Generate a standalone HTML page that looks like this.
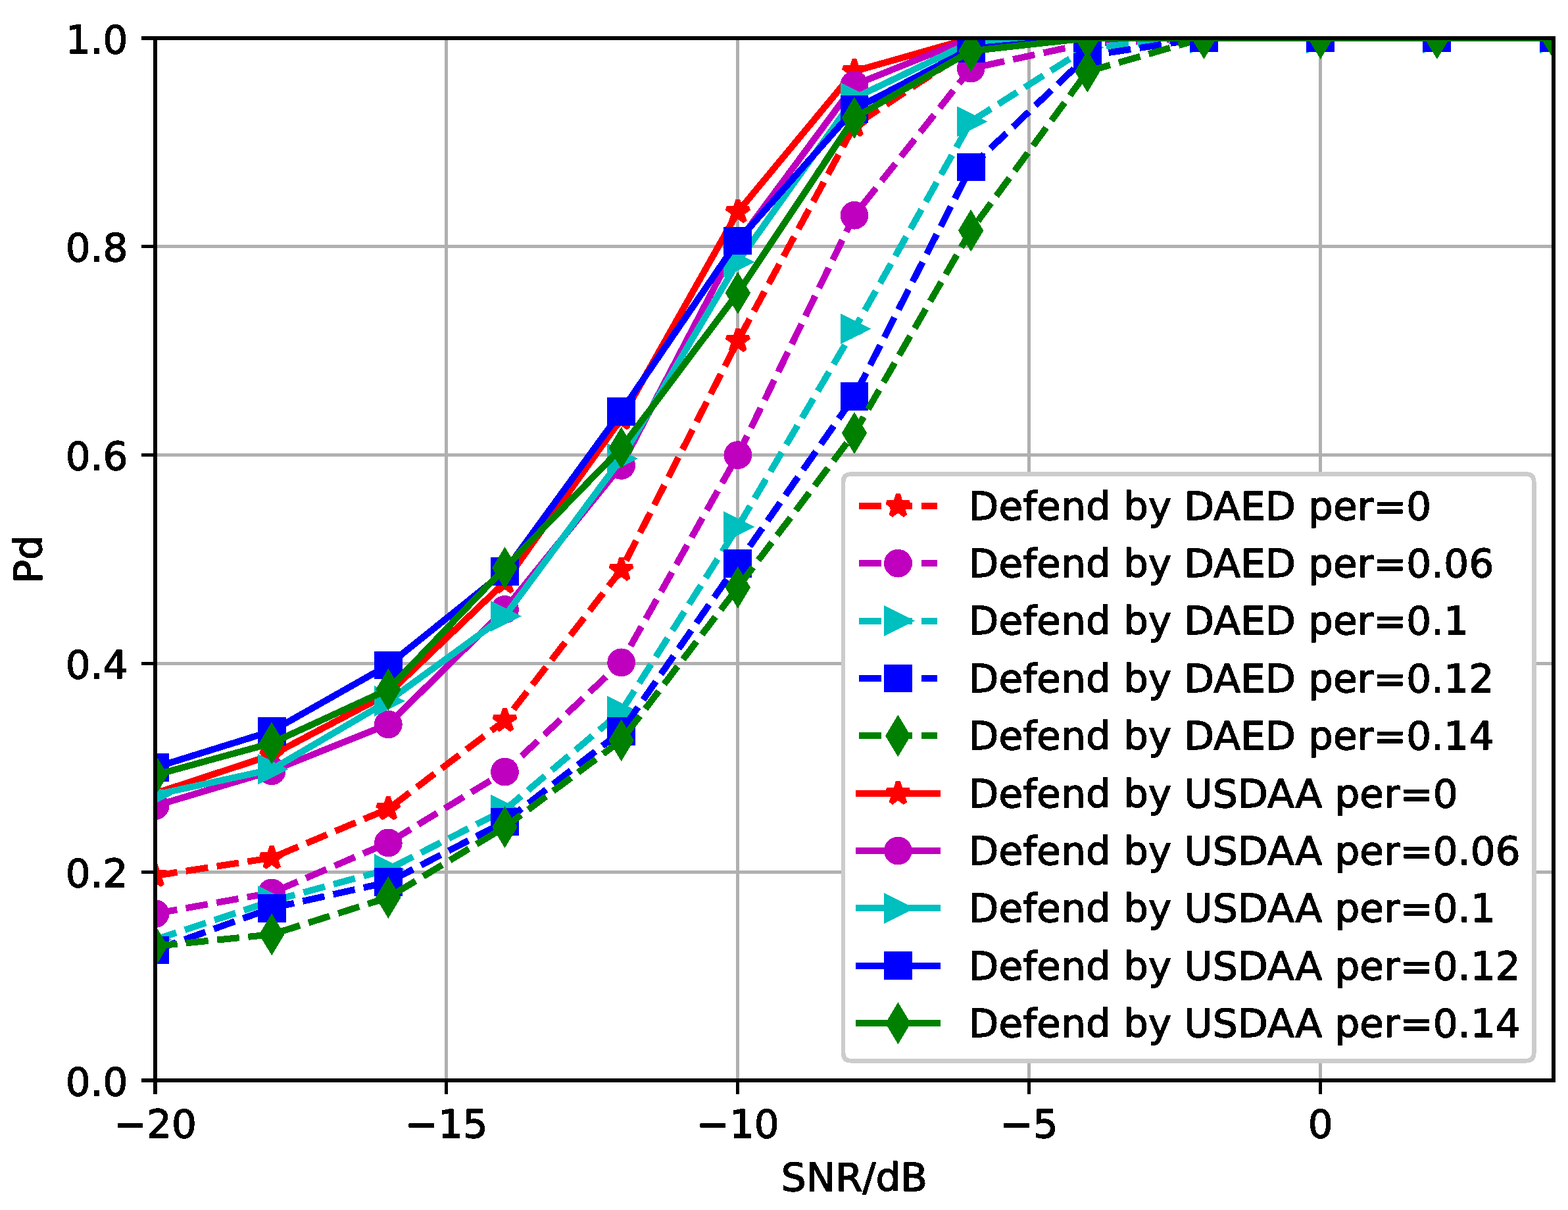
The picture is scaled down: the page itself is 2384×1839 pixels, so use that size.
<!DOCTYPE html>
<html><head><meta charset="utf-8"><title>Pd vs SNR</title>
<style>html,body{margin:0;padding:0;background:#fff;width:2384px;height:1839px;overflow:hidden}svg{display:block;shape-rendering:crispEdges}</style>
</head><body>
<svg width="2384" height="1839" viewBox="0 0 400.485301 308.931405" version="1.1">
 
 <defs>
  <filter id="tcrisp" x="-5%" y="-20%" width="110%" height="140%"><feComponentTransfer><feFuncA type="discrete" tableValues="0 1"/></feComponentTransfer></filter>
  <style type="text/css">*{stroke-linejoin: round; stroke-linecap: butt}</style>
 </defs>
 <g id="figure_1">
  <g id="patch_1">
   <path d="M 0 308.931405 L 400.485301 308.931405 L 400.485301 0 L 0 0 z" style="fill: #ffffff"/>
  </g>
  <g id="axes_1">
   <g id="patch_2">
    <path d="M 39.645357 275.837611 L 396.789547 275.837611 L 396.789547 9.74335 L 39.645357 9.74335 z" style="fill: #ffffff"/>
   </g>
   <g id="matplotlib.axis_1">
    <g id="xtick_1">
     <g id="line2d_1">
      <path d="M 39.645357 275.837611 L 39.645357 9.74335" clip-path="url(#p7adef62418)" style="fill: none; stroke: #b0b0b0; stroke-width: 0.84; stroke-linecap: square"/>
     </g>
     <g id="line2d_2">
      
      <g>
       <path d="M 0 0 L 0 3.5" transform="translate(39.645357 275.837611)" style="stroke: #000000; stroke-width: 0.84"/>
      </g>
     </g>
     <g id="text_1">
      <text filter="url(#tcrisp)" style="font-size: 10px; font-family: 'DejaVu Sans', sans-serif; text-anchor: middle; stroke: #000000; stroke-width: 0.25; stroke-linejoin: miter" x="39.645357" y="290.436048" transform="rotate(-0 39.645357 290.436048)">−20</text>
     </g>
    </g>
    <g id="xtick_2">
     <g id="line2d_3">
      <path d="M 114.050397 275.837611 L 114.050397 9.74335" clip-path="url(#p7adef62418)" style="fill: none; stroke: #b0b0b0; stroke-width: 0.84; stroke-linecap: square"/>
     </g>
     <g id="line2d_4">
      <g>
       <path d="M 0 0 L 0 3.5" transform="translate(114.050397 275.837611)" style="stroke: #000000; stroke-width: 0.84"/>
      </g>
     </g>
     <g id="text_2">
      <text filter="url(#tcrisp)" style="font-size: 10px; font-family: 'DejaVu Sans', sans-serif; text-anchor: middle; stroke: #000000; stroke-width: 0.25; stroke-linejoin: miter" x="114.050397" y="290.436048" transform="rotate(-0 114.050397 290.436048)">−15</text>
     </g>
    </g>
    <g id="xtick_3">
     <g id="line2d_5">
      <path d="M 188.455436 275.837611 L 188.455436 9.74335" clip-path="url(#p7adef62418)" style="fill: none; stroke: #b0b0b0; stroke-width: 0.84; stroke-linecap: square"/>
     </g>
     <g id="line2d_6">
      <g>
       <path d="M 0 0 L 0 3.5" transform="translate(188.455436 275.837611)" style="stroke: #000000; stroke-width: 0.84"/>
      </g>
     </g>
     <g id="text_3">
      <text filter="url(#tcrisp)" style="font-size: 10px; font-family: 'DejaVu Sans', sans-serif; text-anchor: middle; stroke: #000000; stroke-width: 0.25; stroke-linejoin: miter" x="188.455436" y="290.436048" transform="rotate(-0 188.455436 290.436048)">−10</text>
     </g>
    </g>
    <g id="xtick_4">
     <g id="line2d_7">
      <path d="M 262.860476 275.837611 L 262.860476 9.74335" clip-path="url(#p7adef62418)" style="fill: none; stroke: #b0b0b0; stroke-width: 0.84; stroke-linecap: square"/>
     </g>
     <g id="line2d_8">
      <g>
       <path d="M 0 0 L 0 3.5" transform="translate(262.860476 275.837611)" style="stroke: #000000; stroke-width: 0.84"/>
      </g>
     </g>
     <g id="text_4">
      <text filter="url(#tcrisp)" style="font-size: 10px; font-family: 'DejaVu Sans', sans-serif; text-anchor: middle; stroke: #000000; stroke-width: 0.25; stroke-linejoin: miter" x="262.860476" y="290.436048" transform="rotate(-0 262.860476 290.436048)">−5</text>
     </g>
    </g>
    <g id="xtick_5">
     <g id="line2d_9">
      <path d="M 337.265516 275.837611 L 337.265516 9.74335" clip-path="url(#p7adef62418)" style="fill: none; stroke: #b0b0b0; stroke-width: 0.84; stroke-linecap: square"/>
     </g>
     <g id="line2d_10">
      <g>
       <path d="M 0 0 L 0 3.5" transform="translate(337.265516 275.837611)" style="stroke: #000000; stroke-width: 0.84"/>
      </g>
     </g>
     <g id="text_5">
      <text filter="url(#tcrisp)" style="font-size: 10px; font-family: 'DejaVu Sans', sans-serif; text-anchor: middle; stroke: #000000; stroke-width: 0.25; stroke-linejoin: miter" x="337.265516" y="290.436048" transform="rotate(-0 337.265516 290.436048)">0</text>
     </g>
    </g>
    <g id="text_6">
     <text filter="url(#tcrisp)" style="font-size: 10px; font-family: 'DejaVu Sans', sans-serif; text-anchor: middle; stroke: #000000; stroke-width: 0.25; stroke-linejoin: miter" x="218.217452" y="304.114173" transform="rotate(-0 218.217452 304.114173)">SNR/dB</text>
    </g>
   </g>
   <g id="matplotlib.axis_2">
    <g id="ytick_1">
     <g id="line2d_11">
      <path d="M 39.645357 275.837611 L 396.789547 275.837611" clip-path="url(#p7adef62418)" style="fill: none; stroke: #b0b0b0; stroke-width: 0.84; stroke-linecap: square"/>
     </g>
     <g id="line2d_12">
      
      <g>
       <path d="M 0 0 L -3.5 0" transform="translate(39.645357 275.837611)" style="stroke: #000000; stroke-width: 0.84"/>
      </g>
     </g>
     <g id="text_7">
      <text filter="url(#tcrisp)" style="font-size: 10px; font-family: 'DejaVu Sans', sans-serif; text-anchor: end; stroke: #000000; stroke-width: 0.25; stroke-linejoin: miter" x="32.645357" y="279.63683" transform="rotate(-0 32.645357 279.63683)">0.0</text>
     </g>
    </g>
    <g id="ytick_2">
     <g id="line2d_13">
      <path d="M 39.645357 222.618759 L 396.789547 222.618759" clip-path="url(#p7adef62418)" style="fill: none; stroke: #b0b0b0; stroke-width: 0.84; stroke-linecap: square"/>
     </g>
     <g id="line2d_14">
      <g>
       <path d="M 0 0 L -3.5 0" transform="translate(39.645357 222.618759)" style="stroke: #000000; stroke-width: 0.84"/>
      </g>
     </g>
     <g id="text_8">
      <text filter="url(#tcrisp)" style="font-size: 10px; font-family: 'DejaVu Sans', sans-serif; text-anchor: end; stroke: #000000; stroke-width: 0.25; stroke-linejoin: miter" x="32.645357" y="226.417977" transform="rotate(-0 32.645357 226.417977)">0.2</text>
     </g>
    </g>
    <g id="ytick_3">
     <g id="line2d_15">
      <path d="M 39.645357 169.399907 L 396.789547 169.399907" clip-path="url(#p7adef62418)" style="fill: none; stroke: #b0b0b0; stroke-width: 0.84; stroke-linecap: square"/>
     </g>
     <g id="line2d_16">
      <g>
       <path d="M 0 0 L -3.5 0" transform="translate(39.645357 169.399907)" style="stroke: #000000; stroke-width: 0.84"/>
      </g>
     </g>
     <g id="text_9">
      <text filter="url(#tcrisp)" style="font-size: 10px; font-family: 'DejaVu Sans', sans-serif; text-anchor: end; stroke: #000000; stroke-width: 0.25; stroke-linejoin: miter" x="32.645357" y="173.199125" transform="rotate(-0 32.645357 173.199125)">0.4</text>
     </g>
    </g>
    <g id="ytick_4">
     <g id="line2d_17">
      <path d="M 39.645357 116.181055 L 396.789547 116.181055" clip-path="url(#p7adef62418)" style="fill: none; stroke: #b0b0b0; stroke-width: 0.84; stroke-linecap: square"/>
     </g>
     <g id="line2d_18">
      <g>
       <path d="M 0 0 L -3.5 0" transform="translate(39.645357 116.181055)" style="stroke: #000000; stroke-width: 0.84"/>
      </g>
     </g>
     <g id="text_10">
      <text filter="url(#tcrisp)" style="font-size: 10px; font-family: 'DejaVu Sans', sans-serif; text-anchor: end; stroke: #000000; stroke-width: 0.25; stroke-linejoin: miter" x="32.645357" y="119.980273" transform="rotate(-0 32.645357 119.980273)">0.6</text>
     </g>
    </g>
    <g id="ytick_5">
     <g id="line2d_19">
      <path d="M 39.645357 62.962203 L 396.789547 62.962203" clip-path="url(#p7adef62418)" style="fill: none; stroke: #b0b0b0; stroke-width: 0.84; stroke-linecap: square"/>
     </g>
     <g id="line2d_20">
      <g>
       <path d="M 0 0 L -3.5 0" transform="translate(39.645357 62.962203)" style="stroke: #000000; stroke-width: 0.84"/>
      </g>
     </g>
     <g id="text_11">
      <text filter="url(#tcrisp)" style="font-size: 10px; font-family: 'DejaVu Sans', sans-serif; text-anchor: end; stroke: #000000; stroke-width: 0.25; stroke-linejoin: miter" x="32.645357" y="66.761421" transform="rotate(-0 32.645357 66.761421)">0.8</text>
     </g>
    </g>
    <g id="ytick_6">
     <g id="line2d_21">
      <path d="M 39.645357 9.74335 L 396.789547 9.74335" clip-path="url(#p7adef62418)" style="fill: none; stroke: #b0b0b0; stroke-width: 0.84; stroke-linecap: square"/>
     </g>
     <g id="line2d_22">
      <g>
       <path d="M 0 0 L -3.5 0" transform="translate(39.645357 9.74335)" style="stroke: #000000; stroke-width: 0.84"/>
      </g>
     </g>
     <g id="text_12">
      <text filter="url(#tcrisp)" style="font-size: 10px; font-family: 'DejaVu Sans', sans-serif; text-anchor: end; stroke: #000000; stroke-width: 0.25; stroke-linejoin: miter" x="32.645357" y="13.542569" transform="rotate(-0 32.645357 13.542569)">1.0</text>
     </g>
    </g>
    <g id="text_13">
     <text filter="url(#tcrisp)" style="font-size: 10px; font-family: 'DejaVu Sans', sans-serif; text-anchor: middle; stroke: #000000; stroke-width: 0.25; stroke-linejoin: miter" x="10.662544" y="142.790481" transform="rotate(-90 10.662544 142.790481)">Pd</text>
    </g>
   </g>
   <g id="line2d_23">
    <path d="M 39.645357 223.576698 L 69.407373 219.026486 L 99.169389 206.520056 L 128.931405 183.955263 L 158.69342 145.451423 L 188.455436 87.017124 L 218.217452 32.068659 L 247.979468 12.404293 L 277.741484 9.74335 L 307.5035 9.74335 L 337.265516 9.74335 L 367.027531 9.74335 L 396.789547 9.74335" clip-path="url(#p7adef62418)" style="fill: none; stroke-dasharray: 5.68,2.27; stroke-dashoffset: 0; stroke: #ff0000; stroke-width: 1.68"/>
    
    <g clip-path="url(#p7adef62418)">
     <path d="M 0 -3 L -0.673542 -0.927051 L -2.85317 -0.927051 L -1.089814 0.354102 L -1.763356 2.427051 L -0 1.145898 L 1.763356 2.427051 L 1.089814 0.354102 L 2.85317 -0.927051 L 0.673542 -0.927051 z" transform="translate(39.645357 223.576698)" style="fill: #ff0000; stroke: #ff0000; stroke-width: 1.17; stroke-linejoin: bevel"/>
     <path d="M 0 -3 L -0.673542 -0.927051 L -2.85317 -0.927051 L -1.089814 0.354102 L -1.763356 2.427051 L -0 1.145898 L 1.763356 2.427051 L 1.089814 0.354102 L 2.85317 -0.927051 L 0.673542 -0.927051 z" transform="translate(69.407373 219.026486)" style="fill: #ff0000; stroke: #ff0000; stroke-width: 1.17; stroke-linejoin: bevel"/>
     <path d="M 0 -3 L -0.673542 -0.927051 L -2.85317 -0.927051 L -1.089814 0.354102 L -1.763356 2.427051 L -0 1.145898 L 1.763356 2.427051 L 1.089814 0.354102 L 2.85317 -0.927051 L 0.673542 -0.927051 z" transform="translate(99.169389 206.520056)" style="fill: #ff0000; stroke: #ff0000; stroke-width: 1.17; stroke-linejoin: bevel"/>
     <path d="M 0 -3 L -0.673542 -0.927051 L -2.85317 -0.927051 L -1.089814 0.354102 L -1.763356 2.427051 L -0 1.145898 L 1.763356 2.427051 L 1.089814 0.354102 L 2.85317 -0.927051 L 0.673542 -0.927051 z" transform="translate(128.931405 183.955263)" style="fill: #ff0000; stroke: #ff0000; stroke-width: 1.17; stroke-linejoin: bevel"/>
     <path d="M 0 -3 L -0.673542 -0.927051 L -2.85317 -0.927051 L -1.089814 0.354102 L -1.763356 2.427051 L -0 1.145898 L 1.763356 2.427051 L 1.089814 0.354102 L 2.85317 -0.927051 L 0.673542 -0.927051 z" transform="translate(158.69342 145.451423)" style="fill: #ff0000; stroke: #ff0000; stroke-width: 1.17; stroke-linejoin: bevel"/>
     <path d="M 0 -3 L -0.673542 -0.927051 L -2.85317 -0.927051 L -1.089814 0.354102 L -1.763356 2.427051 L -0 1.145898 L 1.763356 2.427051 L 1.089814 0.354102 L 2.85317 -0.927051 L 0.673542 -0.927051 z" transform="translate(188.455436 87.017124)" style="fill: #ff0000; stroke: #ff0000; stroke-width: 1.17; stroke-linejoin: bevel"/>
     <path d="M 0 -3 L -0.673542 -0.927051 L -2.85317 -0.927051 L -1.089814 0.354102 L -1.763356 2.427051 L -0 1.145898 L 1.763356 2.427051 L 1.089814 0.354102 L 2.85317 -0.927051 L 0.673542 -0.927051 z" transform="translate(218.217452 32.068659)" style="fill: #ff0000; stroke: #ff0000; stroke-width: 1.17; stroke-linejoin: bevel"/>
     <path d="M 0 -3 L -0.673542 -0.927051 L -2.85317 -0.927051 L -1.089814 0.354102 L -1.763356 2.427051 L -0 1.145898 L 1.763356 2.427051 L 1.089814 0.354102 L 2.85317 -0.927051 L 0.673542 -0.927051 z" transform="translate(247.979468 12.404293)" style="fill: #ff0000; stroke: #ff0000; stroke-width: 1.17; stroke-linejoin: bevel"/>
     <path d="M 0 -3 L -0.673542 -0.927051 L -2.85317 -0.927051 L -1.089814 0.354102 L -1.763356 2.427051 L -0 1.145898 L 1.763356 2.427051 L 1.089814 0.354102 L 2.85317 -0.927051 L 0.673542 -0.927051 z" transform="translate(277.741484 9.74335)" style="fill: #ff0000; stroke: #ff0000; stroke-width: 1.17; stroke-linejoin: bevel"/>
     <path d="M 0 -3 L -0.673542 -0.927051 L -2.85317 -0.927051 L -1.089814 0.354102 L -1.763356 2.427051 L -0 1.145898 L 1.763356 2.427051 L 1.089814 0.354102 L 2.85317 -0.927051 L 0.673542 -0.927051 z" transform="translate(307.5035 9.74335)" style="fill: #ff0000; stroke: #ff0000; stroke-width: 1.17; stroke-linejoin: bevel"/>
     <path d="M 0 -3 L -0.673542 -0.927051 L -2.85317 -0.927051 L -1.089814 0.354102 L -1.763356 2.427051 L -0 1.145898 L 1.763356 2.427051 L 1.089814 0.354102 L 2.85317 -0.927051 L 0.673542 -0.927051 z" transform="translate(337.265516 9.74335)" style="fill: #ff0000; stroke: #ff0000; stroke-width: 1.17; stroke-linejoin: bevel"/>
     <path d="M 0 -3 L -0.673542 -0.927051 L -2.85317 -0.927051 L -1.089814 0.354102 L -1.763356 2.427051 L -0 1.145898 L 1.763356 2.427051 L 1.089814 0.354102 L 2.85317 -0.927051 L 0.673542 -0.927051 z" transform="translate(367.027531 9.74335)" style="fill: #ff0000; stroke: #ff0000; stroke-width: 1.17; stroke-linejoin: bevel"/>
     <path d="M 0 -3 L -0.673542 -0.927051 L -2.85317 -0.927051 L -1.089814 0.354102 L -1.763356 2.427051 L -0 1.145898 L 1.763356 2.427051 L 1.089814 0.354102 L 2.85317 -0.927051 L 0.673542 -0.927051 z" transform="translate(396.789547 9.74335)" style="fill: #ff0000; stroke: #ff0000; stroke-width: 1.17; stroke-linejoin: bevel"/>
    </g>
   </g>
   <g id="line2d_24">
    <path d="M 39.645357 233.262529 L 69.407373 227.940644 L 99.169389 215.168119 L 128.931405 197.07371 L 158.69342 169.133812 L 188.455436 116.181055 L 218.217452 54.979375 L 247.979468 17.486693 L 277.741484 11.073822 L 307.5035 9.74335 L 337.265516 9.74335 L 367.027531 9.74335 L 396.789547 9.74335" clip-path="url(#p7adef62418)" style="fill: none; stroke-dasharray: 5.68,2.27; stroke-dashoffset: 0; stroke: #bf00bf; stroke-width: 1.68"/>
    
    <g clip-path="url(#p7adef62418)">
     <path d="M 0 3 C 0.795609 3 1.55874 2.683901 2.12132 2.12132 C 2.683901 1.55874 3 0.795609 3 0 C 3 -0.795609 2.683901 -1.55874 2.12132 -2.12132 C 1.55874 -2.683901 0.795609 -3 0 -3 C -0.795609 -3 -1.55874 -2.683901 -2.12132 -2.12132 C -2.683901 -1.55874 -3 -0.795609 -3 0 C -3 0.795609 -2.683901 1.55874 -2.12132 2.12132 C -1.55874 2.683901 -0.795609 3 0 3 z" transform="translate(39.645357 233.262529)" style="fill: #bf00bf; stroke: #bf00bf; stroke-width: 1.17"/>
     <path d="M 0 3 C 0.795609 3 1.55874 2.683901 2.12132 2.12132 C 2.683901 1.55874 3 0.795609 3 0 C 3 -0.795609 2.683901 -1.55874 2.12132 -2.12132 C 1.55874 -2.683901 0.795609 -3 0 -3 C -0.795609 -3 -1.55874 -2.683901 -2.12132 -2.12132 C -2.683901 -1.55874 -3 -0.795609 -3 0 C -3 0.795609 -2.683901 1.55874 -2.12132 2.12132 C -1.55874 2.683901 -0.795609 3 0 3 z" transform="translate(69.407373 227.940644)" style="fill: #bf00bf; stroke: #bf00bf; stroke-width: 1.17"/>
     <path d="M 0 3 C 0.795609 3 1.55874 2.683901 2.12132 2.12132 C 2.683901 1.55874 3 0.795609 3 0 C 3 -0.795609 2.683901 -1.55874 2.12132 -2.12132 C 1.55874 -2.683901 0.795609 -3 0 -3 C -0.795609 -3 -1.55874 -2.683901 -2.12132 -2.12132 C -2.683901 -1.55874 -3 -0.795609 -3 0 C -3 0.795609 -2.683901 1.55874 -2.12132 2.12132 C -1.55874 2.683901 -0.795609 3 0 3 z" transform="translate(99.169389 215.168119)" style="fill: #bf00bf; stroke: #bf00bf; stroke-width: 1.17"/>
     <path d="M 0 3 C 0.795609 3 1.55874 2.683901 2.12132 2.12132 C 2.683901 1.55874 3 0.795609 3 0 C 3 -0.795609 2.683901 -1.55874 2.12132 -2.12132 C 1.55874 -2.683901 0.795609 -3 0 -3 C -0.795609 -3 -1.55874 -2.683901 -2.12132 -2.12132 C -2.683901 -1.55874 -3 -0.795609 -3 0 C -3 0.795609 -2.683901 1.55874 -2.12132 2.12132 C -1.55874 2.683901 -0.795609 3 0 3 z" transform="translate(128.931405 197.07371)" style="fill: #bf00bf; stroke: #bf00bf; stroke-width: 1.17"/>
     <path d="M 0 3 C 0.795609 3 1.55874 2.683901 2.12132 2.12132 C 2.683901 1.55874 3 0.795609 3 0 C 3 -0.795609 2.683901 -1.55874 2.12132 -2.12132 C 1.55874 -2.683901 0.795609 -3 0 -3 C -0.795609 -3 -1.55874 -2.683901 -2.12132 -2.12132 C -2.683901 -1.55874 -3 -0.795609 -3 0 C -3 0.795609 -2.683901 1.55874 -2.12132 2.12132 C -1.55874 2.683901 -0.795609 3 0 3 z" transform="translate(158.69342 169.133812)" style="fill: #bf00bf; stroke: #bf00bf; stroke-width: 1.17"/>
     <path d="M 0 3 C 0.795609 3 1.55874 2.683901 2.12132 2.12132 C 2.683901 1.55874 3 0.795609 3 0 C 3 -0.795609 2.683901 -1.55874 2.12132 -2.12132 C 1.55874 -2.683901 0.795609 -3 0 -3 C -0.795609 -3 -1.55874 -2.683901 -2.12132 -2.12132 C -2.683901 -1.55874 -3 -0.795609 -3 0 C -3 0.795609 -2.683901 1.55874 -2.12132 2.12132 C -1.55874 2.683901 -0.795609 3 0 3 z" transform="translate(188.455436 116.181055)" style="fill: #bf00bf; stroke: #bf00bf; stroke-width: 1.17"/>
     <path d="M 0 3 C 0.795609 3 1.55874 2.683901 2.12132 2.12132 C 2.683901 1.55874 3 0.795609 3 0 C 3 -0.795609 2.683901 -1.55874 2.12132 -2.12132 C 1.55874 -2.683901 0.795609 -3 0 -3 C -0.795609 -3 -1.55874 -2.683901 -2.12132 -2.12132 C -2.683901 -1.55874 -3 -0.795609 -3 0 C -3 0.795609 -2.683901 1.55874 -2.12132 2.12132 C -1.55874 2.683901 -0.795609 3 0 3 z" transform="translate(218.217452 54.979375)" style="fill: #bf00bf; stroke: #bf00bf; stroke-width: 1.17"/>
     <path d="M 0 3 C 0.795609 3 1.55874 2.683901 2.12132 2.12132 C 2.683901 1.55874 3 0.795609 3 0 C 3 -0.795609 2.683901 -1.55874 2.12132 -2.12132 C 1.55874 -2.683901 0.795609 -3 0 -3 C -0.795609 -3 -1.55874 -2.683901 -2.12132 -2.12132 C -2.683901 -1.55874 -3 -0.795609 -3 0 C -3 0.795609 -2.683901 1.55874 -2.12132 2.12132 C -1.55874 2.683901 -0.795609 3 0 3 z" transform="translate(247.979468 17.486693)" style="fill: #bf00bf; stroke: #bf00bf; stroke-width: 1.17"/>
     <path d="M 0 3 C 0.795609 3 1.55874 2.683901 2.12132 2.12132 C 2.683901 1.55874 3 0.795609 3 0 C 3 -0.795609 2.683901 -1.55874 2.12132 -2.12132 C 1.55874 -2.683901 0.795609 -3 0 -3 C -0.795609 -3 -1.55874 -2.683901 -2.12132 -2.12132 C -2.683901 -1.55874 -3 -0.795609 -3 0 C -3 0.795609 -2.683901 1.55874 -2.12132 2.12132 C -1.55874 2.683901 -0.795609 3 0 3 z" transform="translate(277.741484 11.073822)" style="fill: #bf00bf; stroke: #bf00bf; stroke-width: 1.17"/>
     <path d="M 0 3 C 0.795609 3 1.55874 2.683901 2.12132 2.12132 C 2.683901 1.55874 3 0.795609 3 0 C 3 -0.795609 2.683901 -1.55874 2.12132 -2.12132 C 1.55874 -2.683901 0.795609 -3 0 -3 C -0.795609 -3 -1.55874 -2.683901 -2.12132 -2.12132 C -2.683901 -1.55874 -3 -0.795609 -3 0 C -3 0.795609 -2.683901 1.55874 -2.12132 2.12132 C -1.55874 2.683901 -0.795609 3 0 3 z" transform="translate(307.5035 9.74335)" style="fill: #bf00bf; stroke: #bf00bf; stroke-width: 1.17"/>
     <path d="M 0 3 C 0.795609 3 1.55874 2.683901 2.12132 2.12132 C 2.683901 1.55874 3 0.795609 3 0 C 3 -0.795609 2.683901 -1.55874 2.12132 -2.12132 C 1.55874 -2.683901 0.795609 -3 0 -3 C -0.795609 -3 -1.55874 -2.683901 -2.12132 -2.12132 C -2.683901 -1.55874 -3 -0.795609 -3 0 C -3 0.795609 -2.683901 1.55874 -2.12132 2.12132 C -1.55874 2.683901 -0.795609 3 0 3 z" transform="translate(337.265516 9.74335)" style="fill: #bf00bf; stroke: #bf00bf; stroke-width: 1.17"/>
     <path d="M 0 3 C 0.795609 3 1.55874 2.683901 2.12132 2.12132 C 2.683901 1.55874 3 0.795609 3 0 C 3 -0.795609 2.683901 -1.55874 2.12132 -2.12132 C 1.55874 -2.683901 0.795609 -3 0 -3 C -0.795609 -3 -1.55874 -2.683901 -2.12132 -2.12132 C -2.683901 -1.55874 -3 -0.795609 -3 0 C -3 0.795609 -2.683901 1.55874 -2.12132 2.12132 C -1.55874 2.683901 -0.795609 3 0 3 z" transform="translate(367.027531 9.74335)" style="fill: #bf00bf; stroke: #bf00bf; stroke-width: 1.17"/>
     <path d="M 0 3 C 0.795609 3 1.55874 2.683901 2.12132 2.12132 C 2.683901 1.55874 3 0.795609 3 0 C 3 -0.795609 2.683901 -1.55874 2.12132 -2.12132 C 1.55874 -2.683901 0.795609 -3 0 -3 C -0.795609 -3 -1.55874 -2.683901 -2.12132 -2.12132 C -2.683901 -1.55874 -3 -0.795609 -3 0 C -3 0.795609 -2.683901 1.55874 -2.12132 2.12132 C -1.55874 2.683901 -0.795609 3 0 3 z" transform="translate(396.789547 9.74335)" style="fill: #bf00bf; stroke: #bf00bf; stroke-width: 1.17"/>
    </g>
   </g>
   <g id="line2d_25">
    <path d="M 39.645357 239.914886 L 69.407373 230.069398 L 99.169389 221.953523 L 128.931405 206.78615 L 158.69342 181.640243 L 188.455436 134.541559 L 218.217452 83.983649 L 247.979468 31.030891 L 277.741484 12.138199 L 307.5035 9.74335 L 337.265516 9.74335 L 367.027531 9.74335 L 396.789547 9.74335" clip-path="url(#p7adef62418)" style="fill: none; stroke-dasharray: 5.68,2.27; stroke-dashoffset: 0; stroke: #00bfbf; stroke-width: 1.68"/>
    
    <g clip-path="url(#p7adef62418)">
     <path d="M 3 0 L -3 -3 L -3 3 z" transform="translate(39.645357 239.914886)" style="fill: #00bfbf; stroke: #00bfbf; stroke-width: 1.17; stroke-linejoin: miter"/>
     <path d="M 3 0 L -3 -3 L -3 3 z" transform="translate(69.407373 230.069398)" style="fill: #00bfbf; stroke: #00bfbf; stroke-width: 1.17; stroke-linejoin: miter"/>
     <path d="M 3 0 L -3 -3 L -3 3 z" transform="translate(99.169389 221.953523)" style="fill: #00bfbf; stroke: #00bfbf; stroke-width: 1.17; stroke-linejoin: miter"/>
     <path d="M 3 0 L -3 -3 L -3 3 z" transform="translate(128.931405 206.78615)" style="fill: #00bfbf; stroke: #00bfbf; stroke-width: 1.17; stroke-linejoin: miter"/>
     <path d="M 3 0 L -3 -3 L -3 3 z" transform="translate(158.69342 181.640243)" style="fill: #00bfbf; stroke: #00bfbf; stroke-width: 1.17; stroke-linejoin: miter"/>
     <path d="M 3 0 L -3 -3 L -3 3 z" transform="translate(188.455436 134.541559)" style="fill: #00bfbf; stroke: #00bfbf; stroke-width: 1.17; stroke-linejoin: miter"/>
     <path d="M 3 0 L -3 -3 L -3 3 z" transform="translate(218.217452 83.983649)" style="fill: #00bfbf; stroke: #00bfbf; stroke-width: 1.17; stroke-linejoin: miter"/>
     <path d="M 3 0 L -3 -3 L -3 3 z" transform="translate(247.979468 31.030891)" style="fill: #00bfbf; stroke: #00bfbf; stroke-width: 1.17; stroke-linejoin: miter"/>
     <path d="M 3 0 L -3 -3 L -3 3 z" transform="translate(277.741484 12.138199)" style="fill: #00bfbf; stroke: #00bfbf; stroke-width: 1.17; stroke-linejoin: miter"/>
     <path d="M 3 0 L -3 -3 L -3 3 z" transform="translate(307.5035 9.74335)" style="fill: #00bfbf; stroke: #00bfbf; stroke-width: 1.17; stroke-linejoin: miter"/>
     <path d="M 3 0 L -3 -3 L -3 3 z" transform="translate(337.265516 9.74335)" style="fill: #00bfbf; stroke: #00bfbf; stroke-width: 1.17; stroke-linejoin: miter"/>
     <path d="M 3 0 L -3 -3 L -3 3 z" transform="translate(367.027531 9.74335)" style="fill: #00bfbf; stroke: #00bfbf; stroke-width: 1.17; stroke-linejoin: miter"/>
     <path d="M 3 0 L -3 -3 L -3 3 z" transform="translate(396.789547 9.74335)" style="fill: #00bfbf; stroke: #00bfbf; stroke-width: 1.17; stroke-linejoin: miter"/>
    </g>
   </g>
   <g id="line2d_26">
    <path d="M 39.645357 242.575828 L 69.407373 231.85223 L 99.169389 225.226483 L 128.931405 209.793015 L 158.69342 186.696034 L 188.455436 143.828248 L 218.217452 101.173338 L 247.979468 42.65921 L 277.741484 14.266953 L 307.5035 9.74335 L 337.265516 9.74335 L 367.027531 9.74335 L 396.789547 9.74335" clip-path="url(#p7adef62418)" style="fill: none; stroke-dasharray: 5.68,2.27; stroke-dashoffset: 0; stroke: #0000ff; stroke-width: 1.68"/>
    
    <g clip-path="url(#p7adef62418)">
     <path d="M -3 3 L 3 3 L 3 -3 L -3 -3 z" transform="translate(39.645357 242.575828)" style="fill: #0000ff; stroke: #0000ff; stroke-width: 1.17; stroke-linejoin: miter"/>
     <path d="M -3 3 L 3 3 L 3 -3 L -3 -3 z" transform="translate(69.407373 231.85223)" style="fill: #0000ff; stroke: #0000ff; stroke-width: 1.17; stroke-linejoin: miter"/>
     <path d="M -3 3 L 3 3 L 3 -3 L -3 -3 z" transform="translate(99.169389 225.226483)" style="fill: #0000ff; stroke: #0000ff; stroke-width: 1.17; stroke-linejoin: miter"/>
     <path d="M -3 3 L 3 3 L 3 -3 L -3 -3 z" transform="translate(128.931405 209.793015)" style="fill: #0000ff; stroke: #0000ff; stroke-width: 1.17; stroke-linejoin: miter"/>
     <path d="M -3 3 L 3 3 L 3 -3 L -3 -3 z" transform="translate(158.69342 186.696034)" style="fill: #0000ff; stroke: #0000ff; stroke-width: 1.17; stroke-linejoin: miter"/>
     <path d="M -3 3 L 3 3 L 3 -3 L -3 -3 z" transform="translate(188.455436 143.828248)" style="fill: #0000ff; stroke: #0000ff; stroke-width: 1.17; stroke-linejoin: miter"/>
     <path d="M -3 3 L 3 3 L 3 -3 L -3 -3 z" transform="translate(218.217452 101.173338)" style="fill: #0000ff; stroke: #0000ff; stroke-width: 1.17; stroke-linejoin: miter"/>
     <path d="M -3 3 L 3 3 L 3 -3 L -3 -3 z" transform="translate(247.979468 42.65921)" style="fill: #0000ff; stroke: #0000ff; stroke-width: 1.17; stroke-linejoin: miter"/>
     <path d="M -3 3 L 3 3 L 3 -3 L -3 -3 z" transform="translate(277.741484 14.266953)" style="fill: #0000ff; stroke: #0000ff; stroke-width: 1.17; stroke-linejoin: miter"/>
     <path d="M -3 3 L 3 3 L 3 -3 L -3 -3 z" transform="translate(307.5035 9.74335)" style="fill: #0000ff; stroke: #0000ff; stroke-width: 1.17; stroke-linejoin: miter"/>
     <path d="M -3 3 L 3 3 L 3 -3 L -3 -3 z" transform="translate(337.265516 9.74335)" style="fill: #0000ff; stroke: #0000ff; stroke-width: 1.17; stroke-linejoin: miter"/>
     <path d="M -3 3 L 3 3 L 3 -3 L -3 -3 z" transform="translate(367.027531 9.74335)" style="fill: #0000ff; stroke: #0000ff; stroke-width: 1.17; stroke-linejoin: miter"/>
     <path d="M -3 3 L 3 3 L 3 -3 L -3 -3 z" transform="translate(396.789547 9.74335)" style="fill: #0000ff; stroke: #0000ff; stroke-width: 1.17; stroke-linejoin: miter"/>
    </g>
   </g>
   <g id="line2d_27">
    <path d="M 39.645357 241.56467 L 69.407373 238.584414 L 99.169389 229.138068 L 128.931405 211.176706 L 158.69342 189.011054 L 188.455436 149.975026 L 218.217452 110.566466 L 247.979468 58.864351 L 277.741484 18.258367 L 307.5035 9.74335 L 337.265516 9.74335 L 367.027531 9.74335 L 396.789547 9.74335" clip-path="url(#p7adef62418)" style="fill: none; stroke-dasharray: 5.68,2.27; stroke-dashoffset: 0; stroke: #008000; stroke-width: 1.68"/>
    
    <g clip-path="url(#p7adef62418)">
     <path d="M -0 4.242641 L 2.545584 0 L 0 -4.242641 L -2.545584 -0 z" transform="translate(39.645357 241.56467)" style="fill: #008000; stroke: #008000; stroke-width: 1.17; stroke-linejoin: miter"/>
     <path d="M -0 4.242641 L 2.545584 0 L 0 -4.242641 L -2.545584 -0 z" transform="translate(69.407373 238.584414)" style="fill: #008000; stroke: #008000; stroke-width: 1.17; stroke-linejoin: miter"/>
     <path d="M -0 4.242641 L 2.545584 0 L 0 -4.242641 L -2.545584 -0 z" transform="translate(99.169389 229.138068)" style="fill: #008000; stroke: #008000; stroke-width: 1.17; stroke-linejoin: miter"/>
     <path d="M -0 4.242641 L 2.545584 0 L 0 -4.242641 L -2.545584 -0 z" transform="translate(128.931405 211.176706)" style="fill: #008000; stroke: #008000; stroke-width: 1.17; stroke-linejoin: miter"/>
     <path d="M -0 4.242641 L 2.545584 0 L 0 -4.242641 L -2.545584 -0 z" transform="translate(158.69342 189.011054)" style="fill: #008000; stroke: #008000; stroke-width: 1.17; stroke-linejoin: miter"/>
     <path d="M -0 4.242641 L 2.545584 0 L 0 -4.242641 L -2.545584 -0 z" transform="translate(188.455436 149.975026)" style="fill: #008000; stroke: #008000; stroke-width: 1.17; stroke-linejoin: miter"/>
     <path d="M -0 4.242641 L 2.545584 0 L 0 -4.242641 L -2.545584 -0 z" transform="translate(218.217452 110.566466)" style="fill: #008000; stroke: #008000; stroke-width: 1.17; stroke-linejoin: miter"/>
     <path d="M -0 4.242641 L 2.545584 0 L 0 -4.242641 L -2.545584 -0 z" transform="translate(247.979468 58.864351)" style="fill: #008000; stroke: #008000; stroke-width: 1.17; stroke-linejoin: miter"/>
     <path d="M -0 4.242641 L 2.545584 0 L 0 -4.242641 L -2.545584 -0 z" transform="translate(277.741484 18.258367)" style="fill: #008000; stroke: #008000; stroke-width: 1.17; stroke-linejoin: miter"/>
     <path d="M -0 4.242641 L 2.545584 0 L 0 -4.242641 L -2.545584 -0 z" transform="translate(307.5035 9.74335)" style="fill: #008000; stroke: #008000; stroke-width: 1.17; stroke-linejoin: miter"/>
     <path d="M -0 4.242641 L 2.545584 0 L 0 -4.242641 L -2.545584 -0 z" transform="translate(337.265516 9.74335)" style="fill: #008000; stroke: #008000; stroke-width: 1.17; stroke-linejoin: miter"/>
     <path d="M -0 4.242641 L 2.545584 0 L 0 -4.242641 L -2.545584 -0 z" transform="translate(367.027531 9.74335)" style="fill: #008000; stroke: #008000; stroke-width: 1.17; stroke-linejoin: miter"/>
     <path d="M -0 4.242641 L 2.545584 0 L 0 -4.242641 L -2.545584 -0 z" transform="translate(396.789547 9.74335)" style="fill: #008000; stroke: #008000; stroke-width: 1.17; stroke-linejoin: miter"/>
    </g>
   </g>
   <g id="line2d_28">
    <path d="M 39.645357 202.555252 L 69.407373 192.789592 L 99.169389 177.11664 L 128.931405 148.644554 L 158.69342 106.867755 L 188.455436 54.101264 L 218.217452 18.205148 L 247.979468 9.74335 L 277.741484 9.74335 L 307.5035 9.74335 L 337.265516 9.74335 L 367.027531 9.74335 L 396.789547 9.74335" clip-path="url(#p7adef62418)" style="fill: none; stroke: #ff0000; stroke-width: 1.68; stroke-linecap: square"/>
    <g clip-path="url(#p7adef62418)">
     <path d="M 0 -3 L -0.673542 -0.927051 L -2.85317 -0.927051 L -1.089814 0.354102 L -1.763356 2.427051 L -0 1.145898 L 1.763356 2.427051 L 1.089814 0.354102 L 2.85317 -0.927051 L 0.673542 -0.927051 z" transform="translate(39.645357 202.555252)" style="fill: #ff0000; stroke: #ff0000; stroke-width: 1.17; stroke-linejoin: bevel"/>
     <path d="M 0 -3 L -0.673542 -0.927051 L -2.85317 -0.927051 L -1.089814 0.354102 L -1.763356 2.427051 L -0 1.145898 L 1.763356 2.427051 L 1.089814 0.354102 L 2.85317 -0.927051 L 0.673542 -0.927051 z" transform="translate(69.407373 192.789592)" style="fill: #ff0000; stroke: #ff0000; stroke-width: 1.17; stroke-linejoin: bevel"/>
     <path d="M 0 -3 L -0.673542 -0.927051 L -2.85317 -0.927051 L -1.089814 0.354102 L -1.763356 2.427051 L -0 1.145898 L 1.763356 2.427051 L 1.089814 0.354102 L 2.85317 -0.927051 L 0.673542 -0.927051 z" transform="translate(99.169389 177.11664)" style="fill: #ff0000; stroke: #ff0000; stroke-width: 1.17; stroke-linejoin: bevel"/>
     <path d="M 0 -3 L -0.673542 -0.927051 L -2.85317 -0.927051 L -1.089814 0.354102 L -1.763356 2.427051 L -0 1.145898 L 1.763356 2.427051 L 1.089814 0.354102 L 2.85317 -0.927051 L 0.673542 -0.927051 z" transform="translate(128.931405 148.644554)" style="fill: #ff0000; stroke: #ff0000; stroke-width: 1.17; stroke-linejoin: bevel"/>
     <path d="M 0 -3 L -0.673542 -0.927051 L -2.85317 -0.927051 L -1.089814 0.354102 L -1.763356 2.427051 L -0 1.145898 L 1.763356 2.427051 L 1.089814 0.354102 L 2.85317 -0.927051 L 0.673542 -0.927051 z" transform="translate(158.69342 106.867755)" style="fill: #ff0000; stroke: #ff0000; stroke-width: 1.17; stroke-linejoin: bevel"/>
     <path d="M 0 -3 L -0.673542 -0.927051 L -2.85317 -0.927051 L -1.089814 0.354102 L -1.763356 2.427051 L -0 1.145898 L 1.763356 2.427051 L 1.089814 0.354102 L 2.85317 -0.927051 L 0.673542 -0.927051 z" transform="translate(188.455436 54.101264)" style="fill: #ff0000; stroke: #ff0000; stroke-width: 1.17; stroke-linejoin: bevel"/>
     <path d="M 0 -3 L -0.673542 -0.927051 L -2.85317 -0.927051 L -1.089814 0.354102 L -1.763356 2.427051 L -0 1.145898 L 1.763356 2.427051 L 1.089814 0.354102 L 2.85317 -0.927051 L 0.673542 -0.927051 z" transform="translate(218.217452 18.205148)" style="fill: #ff0000; stroke: #ff0000; stroke-width: 1.17; stroke-linejoin: bevel"/>
     <path d="M 0 -3 L -0.673542 -0.927051 L -2.85317 -0.927051 L -1.089814 0.354102 L -1.763356 2.427051 L -0 1.145898 L 1.763356 2.427051 L 1.089814 0.354102 L 2.85317 -0.927051 L 0.673542 -0.927051 z" transform="translate(247.979468 9.74335)" style="fill: #ff0000; stroke: #ff0000; stroke-width: 1.17; stroke-linejoin: bevel"/>
     <path d="M 0 -3 L -0.673542 -0.927051 L -2.85317 -0.927051 L -1.089814 0.354102 L -1.763356 2.427051 L -0 1.145898 L 1.763356 2.427051 L 1.089814 0.354102 L 2.85317 -0.927051 L 0.673542 -0.927051 z" transform="translate(277.741484 9.74335)" style="fill: #ff0000; stroke: #ff0000; stroke-width: 1.17; stroke-linejoin: bevel"/>
     <path d="M 0 -3 L -0.673542 -0.927051 L -2.85317 -0.927051 L -1.089814 0.354102 L -1.763356 2.427051 L -0 1.145898 L 1.763356 2.427051 L 1.089814 0.354102 L 2.85317 -0.927051 L 0.673542 -0.927051 z" transform="translate(307.5035 9.74335)" style="fill: #ff0000; stroke: #ff0000; stroke-width: 1.17; stroke-linejoin: bevel"/>
     <path d="M 0 -3 L -0.673542 -0.927051 L -2.85317 -0.927051 L -1.089814 0.354102 L -1.763356 2.427051 L -0 1.145898 L 1.763356 2.427051 L 1.089814 0.354102 L 2.85317 -0.927051 L 0.673542 -0.927051 z" transform="translate(337.265516 9.74335)" style="fill: #ff0000; stroke: #ff0000; stroke-width: 1.17; stroke-linejoin: bevel"/>
     <path d="M 0 -3 L -0.673542 -0.927051 L -2.85317 -0.927051 L -1.089814 0.354102 L -1.763356 2.427051 L -0 1.145898 L 1.763356 2.427051 L 1.089814 0.354102 L 2.85317 -0.927051 L 0.673542 -0.927051 z" transform="translate(367.027531 9.74335)" style="fill: #ff0000; stroke: #ff0000; stroke-width: 1.17; stroke-linejoin: bevel"/>
     <path d="M 0 -3 L -0.673542 -0.927051 L -2.85317 -0.927051 L -1.089814 0.354102 L -1.763356 2.427051 L -0 1.145898 L 1.763356 2.427051 L 1.089814 0.354102 L 2.85317 -0.927051 L 0.673542 -0.927051 z" transform="translate(396.789547 9.74335)" style="fill: #ff0000; stroke: #ff0000; stroke-width: 1.17; stroke-linejoin: bevel"/>
    </g>
   </g>
   <g id="line2d_29">
    <path d="M 39.645357 205.748383 L 69.407373 196.860834 L 99.169389 184.939811 L 128.931405 155.616224 L 158.69342 118.841997 L 188.455436 61.897825 L 218.217452 21.664373 L 247.979468 9.74335 L 277.741484 9.74335 L 307.5035 9.74335 L 337.265516 9.74335 L 367.027531 9.74335 L 396.789547 9.74335" clip-path="url(#p7adef62418)" style="fill: none; stroke: #bf00bf; stroke-width: 1.68; stroke-linecap: square"/>
    <g clip-path="url(#p7adef62418)">
     <path d="M 0 3 C 0.795609 3 1.55874 2.683901 2.12132 2.12132 C 2.683901 1.55874 3 0.795609 3 0 C 3 -0.795609 2.683901 -1.55874 2.12132 -2.12132 C 1.55874 -2.683901 0.795609 -3 0 -3 C -0.795609 -3 -1.55874 -2.683901 -2.12132 -2.12132 C -2.683901 -1.55874 -3 -0.795609 -3 0 C -3 0.795609 -2.683901 1.55874 -2.12132 2.12132 C -1.55874 2.683901 -0.795609 3 0 3 z" transform="translate(39.645357 205.748383)" style="fill: #bf00bf; stroke: #bf00bf; stroke-width: 1.17"/>
     <path d="M 0 3 C 0.795609 3 1.55874 2.683901 2.12132 2.12132 C 2.683901 1.55874 3 0.795609 3 0 C 3 -0.795609 2.683901 -1.55874 2.12132 -2.12132 C 1.55874 -2.683901 0.795609 -3 0 -3 C -0.795609 -3 -1.55874 -2.683901 -2.12132 -2.12132 C -2.683901 -1.55874 -3 -0.795609 -3 0 C -3 0.795609 -2.683901 1.55874 -2.12132 2.12132 C -1.55874 2.683901 -0.795609 3 0 3 z" transform="translate(69.407373 196.860834)" style="fill: #bf00bf; stroke: #bf00bf; stroke-width: 1.17"/>
     <path d="M 0 3 C 0.795609 3 1.55874 2.683901 2.12132 2.12132 C 2.683901 1.55874 3 0.795609 3 0 C 3 -0.795609 2.683901 -1.55874 2.12132 -2.12132 C 1.55874 -2.683901 0.795609 -3 0 -3 C -0.795609 -3 -1.55874 -2.683901 -2.12132 -2.12132 C -2.683901 -1.55874 -3 -0.795609 -3 0 C -3 0.795609 -2.683901 1.55874 -2.12132 2.12132 C -1.55874 2.683901 -0.795609 3 0 3 z" transform="translate(99.169389 184.939811)" style="fill: #bf00bf; stroke: #bf00bf; stroke-width: 1.17"/>
     <path d="M 0 3 C 0.795609 3 1.55874 2.683901 2.12132 2.12132 C 2.683901 1.55874 3 0.795609 3 0 C 3 -0.795609 2.683901 -1.55874 2.12132 -2.12132 C 1.55874 -2.683901 0.795609 -3 0 -3 C -0.795609 -3 -1.55874 -2.683901 -2.12132 -2.12132 C -2.683901 -1.55874 -3 -0.795609 -3 0 C -3 0.795609 -2.683901 1.55874 -2.12132 2.12132 C -1.55874 2.683901 -0.795609 3 0 3 z" transform="translate(128.931405 155.616224)" style="fill: #bf00bf; stroke: #bf00bf; stroke-width: 1.17"/>
     <path d="M 0 3 C 0.795609 3 1.55874 2.683901 2.12132 2.12132 C 2.683901 1.55874 3 0.795609 3 0 C 3 -0.795609 2.683901 -1.55874 2.12132 -2.12132 C 1.55874 -2.683901 0.795609 -3 0 -3 C -0.795609 -3 -1.55874 -2.683901 -2.12132 -2.12132 C -2.683901 -1.55874 -3 -0.795609 -3 0 C -3 0.795609 -2.683901 1.55874 -2.12132 2.12132 C -1.55874 2.683901 -0.795609 3 0 3 z" transform="translate(158.69342 118.841997)" style="fill: #bf00bf; stroke: #bf00bf; stroke-width: 1.17"/>
     <path d="M 0 3 C 0.795609 3 1.55874 2.683901 2.12132 2.12132 C 2.683901 1.55874 3 0.795609 3 0 C 3 -0.795609 2.683901 -1.55874 2.12132 -2.12132 C 1.55874 -2.683901 0.795609 -3 0 -3 C -0.795609 -3 -1.55874 -2.683901 -2.12132 -2.12132 C -2.683901 -1.55874 -3 -0.795609 -3 0 C -3 0.795609 -2.683901 1.55874 -2.12132 2.12132 C -1.55874 2.683901 -0.795609 3 0 3 z" transform="translate(188.455436 61.897825)" style="fill: #bf00bf; stroke: #bf00bf; stroke-width: 1.17"/>
     <path d="M 0 3 C 0.795609 3 1.55874 2.683901 2.12132 2.12132 C 2.683901 1.55874 3 0.795609 3 0 C 3 -0.795609 2.683901 -1.55874 2.12132 -2.12132 C 1.55874 -2.683901 0.795609 -3 0 -3 C -0.795609 -3 -1.55874 -2.683901 -2.12132 -2.12132 C -2.683901 -1.55874 -3 -0.795609 -3 0 C -3 0.795609 -2.683901 1.55874 -2.12132 2.12132 C -1.55874 2.683901 -0.795609 3 0 3 z" transform="translate(218.217452 21.664373)" style="fill: #bf00bf; stroke: #bf00bf; stroke-width: 1.17"/>
     <path d="M 0 3 C 0.795609 3 1.55874 2.683901 2.12132 2.12132 C 2.683901 1.55874 3 0.795609 3 0 C 3 -0.795609 2.683901 -1.55874 2.12132 -2.12132 C 1.55874 -2.683901 0.795609 -3 0 -3 C -0.795609 -3 -1.55874 -2.683901 -2.12132 -2.12132 C -2.683901 -1.55874 -3 -0.795609 -3 0 C -3 0.795609 -2.683901 1.55874 -2.12132 2.12132 C -1.55874 2.683901 -0.795609 3 0 3 z" transform="translate(247.979468 9.74335)" style="fill: #bf00bf; stroke: #bf00bf; stroke-width: 1.17"/>
     <path d="M 0 3 C 0.795609 3 1.55874 2.683901 2.12132 2.12132 C 2.683901 1.55874 3 0.795609 3 0 C 3 -0.795609 2.683901 -1.55874 2.12132 -2.12132 C 1.55874 -2.683901 0.795609 -3 0 -3 C -0.795609 -3 -1.55874 -2.683901 -2.12132 -2.12132 C -2.683901 -1.55874 -3 -0.795609 -3 0 C -3 0.795609 -2.683901 1.55874 -2.12132 2.12132 C -1.55874 2.683901 -0.795609 3 0 3 z" transform="translate(277.741484 9.74335)" style="fill: #bf00bf; stroke: #bf00bf; stroke-width: 1.17"/>
     <path d="M 0 3 C 0.795609 3 1.55874 2.683901 2.12132 2.12132 C 2.683901 1.55874 3 0.795609 3 0 C 3 -0.795609 2.683901 -1.55874 2.12132 -2.12132 C 1.55874 -2.683901 0.795609 -3 0 -3 C -0.795609 -3 -1.55874 -2.683901 -2.12132 -2.12132 C -2.683901 -1.55874 -3 -0.795609 -3 0 C -3 0.795609 -2.683901 1.55874 -2.12132 2.12132 C -1.55874 2.683901 -0.795609 3 0 3 z" transform="translate(307.5035 9.74335)" style="fill: #bf00bf; stroke: #bf00bf; stroke-width: 1.17"/>
     <path d="M 0 3 C 0.795609 3 1.55874 2.683901 2.12132 2.12132 C 2.683901 1.55874 3 0.795609 3 0 C 3 -0.795609 2.683901 -1.55874 2.12132 -2.12132 C 1.55874 -2.683901 0.795609 -3 0 -3 C -0.795609 -3 -1.55874 -2.683901 -2.12132 -2.12132 C -2.683901 -1.55874 -3 -0.795609 -3 0 C -3 0.795609 -2.683901 1.55874 -2.12132 2.12132 C -1.55874 2.683901 -0.795609 3 0 3 z" transform="translate(337.265516 9.74335)" style="fill: #bf00bf; stroke: #bf00bf; stroke-width: 1.17"/>
     <path d="M 0 3 C 0.795609 3 1.55874 2.683901 2.12132 2.12132 C 2.683901 1.55874 3 0.795609 3 0 C 3 -0.795609 2.683901 -1.55874 2.12132 -2.12132 C 1.55874 -2.683901 0.795609 -3 0 -3 C -0.795609 -3 -1.55874 -2.683901 -2.12132 -2.12132 C -2.683901 -1.55874 -3 -0.795609 -3 0 C -3 0.795609 -2.683901 1.55874 -2.12132 2.12132 C -1.55874 2.683901 -0.795609 3 0 3 z" transform="translate(367.027531 9.74335)" style="fill: #bf00bf; stroke: #bf00bf; stroke-width: 1.17"/>
     <path d="M 0 3 C 0.795609 3 1.55874 2.683901 2.12132 2.12132 C 2.683901 1.55874 3 0.795609 3 0 C 3 -0.795609 2.683901 -1.55874 2.12132 -2.12132 C 1.55874 -2.683901 0.795609 -3 0 -3 C -0.795609 -3 -1.55874 -2.683901 -2.12132 -2.12132 C -2.683901 -1.55874 -3 -0.795609 -3 0 C -3 0.795609 -2.683901 1.55874 -2.12132 2.12132 C -1.55874 2.683901 -0.795609 3 0 3 z" transform="translate(396.789547 9.74335)" style="fill: #bf00bf; stroke: #bf00bf; stroke-width: 1.17"/>
    </g>
   </g>
   <g id="line2d_30">
    <path d="M 39.645357 202.927783 L 69.407373 196.435084 L 99.169389 178.9793 L 128.931405 157.319227 L 158.69342 117.085775 L 188.455436 66.873788 L 218.217452 25.04377 L 247.979468 10.807727 L 277.741484 9.74335 L 307.5035 9.74335 L 337.265516 9.74335 L 367.027531 9.74335 L 396.789547 9.74335" clip-path="url(#p7adef62418)" style="fill: none; stroke: #00bfbf; stroke-width: 1.68; stroke-linecap: square"/>
    <g clip-path="url(#p7adef62418)">
     <path d="M 3 0 L -3 -3 L -3 3 z" transform="translate(39.645357 202.927783)" style="fill: #00bfbf; stroke: #00bfbf; stroke-width: 1.17; stroke-linejoin: miter"/>
     <path d="M 3 0 L -3 -3 L -3 3 z" transform="translate(69.407373 196.435084)" style="fill: #00bfbf; stroke: #00bfbf; stroke-width: 1.17; stroke-linejoin: miter"/>
     <path d="M 3 0 L -3 -3 L -3 3 z" transform="translate(99.169389 178.9793)" style="fill: #00bfbf; stroke: #00bfbf; stroke-width: 1.17; stroke-linejoin: miter"/>
     <path d="M 3 0 L -3 -3 L -3 3 z" transform="translate(128.931405 157.319227)" style="fill: #00bfbf; stroke: #00bfbf; stroke-width: 1.17; stroke-linejoin: miter"/>
     <path d="M 3 0 L -3 -3 L -3 3 z" transform="translate(158.69342 117.085775)" style="fill: #00bfbf; stroke: #00bfbf; stroke-width: 1.17; stroke-linejoin: miter"/>
     <path d="M 3 0 L -3 -3 L -3 3 z" transform="translate(188.455436 66.873788)" style="fill: #00bfbf; stroke: #00bfbf; stroke-width: 1.17; stroke-linejoin: miter"/>
     <path d="M 3 0 L -3 -3 L -3 3 z" transform="translate(218.217452 25.04377)" style="fill: #00bfbf; stroke: #00bfbf; stroke-width: 1.17; stroke-linejoin: miter"/>
     <path d="M 3 0 L -3 -3 L -3 3 z" transform="translate(247.979468 10.807727)" style="fill: #00bfbf; stroke: #00bfbf; stroke-width: 1.17; stroke-linejoin: miter"/>
     <path d="M 3 0 L -3 -3 L -3 3 z" transform="translate(277.741484 9.74335)" style="fill: #00bfbf; stroke: #00bfbf; stroke-width: 1.17; stroke-linejoin: miter"/>
     <path d="M 3 0 L -3 -3 L -3 3 z" transform="translate(307.5035 9.74335)" style="fill: #00bfbf; stroke: #00bfbf; stroke-width: 1.17; stroke-linejoin: miter"/>
     <path d="M 3 0 L -3 -3 L -3 3 z" transform="translate(337.265516 9.74335)" style="fill: #00bfbf; stroke: #00bfbf; stroke-width: 1.17; stroke-linejoin: miter"/>
     <path d="M 3 0 L -3 -3 L -3 3 z" transform="translate(367.027531 9.74335)" style="fill: #00bfbf; stroke: #00bfbf; stroke-width: 1.17; stroke-linejoin: miter"/>
     <path d="M 3 0 L -3 -3 L -3 3 z" transform="translate(396.789547 9.74335)" style="fill: #00bfbf; stroke: #00bfbf; stroke-width: 1.17; stroke-linejoin: miter"/>
    </g>
   </g>
   <g id="line2d_31">
    <path d="M 39.645357 195.929504 L 69.407373 186.669424 L 99.169389 169.825657 L 128.931405 145.903783 L 158.69342 105.031705 L 188.455436 61.498684 L 218.217452 27.86437 L 247.979468 12.404293 L 277.741484 9.74335 L 307.5035 9.74335 L 337.265516 9.74335 L 367.027531 9.74335 L 396.789547 9.74335" clip-path="url(#p7adef62418)" style="fill: none; stroke: #0000ff; stroke-width: 1.68; stroke-linecap: square"/>
    <g clip-path="url(#p7adef62418)">
     <path d="M -3 3 L 3 3 L 3 -3 L -3 -3 z" transform="translate(39.645357 195.929504)" style="fill: #0000ff; stroke: #0000ff; stroke-width: 1.17; stroke-linejoin: miter"/>
     <path d="M -3 3 L 3 3 L 3 -3 L -3 -3 z" transform="translate(69.407373 186.669424)" style="fill: #0000ff; stroke: #0000ff; stroke-width: 1.17; stroke-linejoin: miter"/>
     <path d="M -3 3 L 3 3 L 3 -3 L -3 -3 z" transform="translate(99.169389 169.825657)" style="fill: #0000ff; stroke: #0000ff; stroke-width: 1.17; stroke-linejoin: miter"/>
     <path d="M -3 3 L 3 3 L 3 -3 L -3 -3 z" transform="translate(128.931405 145.903783)" style="fill: #0000ff; stroke: #0000ff; stroke-width: 1.17; stroke-linejoin: miter"/>
     <path d="M -3 3 L 3 3 L 3 -3 L -3 -3 z" transform="translate(158.69342 105.031705)" style="fill: #0000ff; stroke: #0000ff; stroke-width: 1.17; stroke-linejoin: miter"/>
     <path d="M -3 3 L 3 3 L 3 -3 L -3 -3 z" transform="translate(188.455436 61.498684)" style="fill: #0000ff; stroke: #0000ff; stroke-width: 1.17; stroke-linejoin: miter"/>
     <path d="M -3 3 L 3 3 L 3 -3 L -3 -3 z" transform="translate(218.217452 27.86437)" style="fill: #0000ff; stroke: #0000ff; stroke-width: 1.17; stroke-linejoin: miter"/>
     <path d="M -3 3 L 3 3 L 3 -3 L -3 -3 z" transform="translate(247.979468 12.404293)" style="fill: #0000ff; stroke: #0000ff; stroke-width: 1.17; stroke-linejoin: miter"/>
     <path d="M -3 3 L 3 3 L 3 -3 L -3 -3 z" transform="translate(277.741484 9.74335)" style="fill: #0000ff; stroke: #0000ff; stroke-width: 1.17; stroke-linejoin: miter"/>
     <path d="M -3 3 L 3 3 L 3 -3 L -3 -3 z" transform="translate(307.5035 9.74335)" style="fill: #0000ff; stroke: #0000ff; stroke-width: 1.17; stroke-linejoin: miter"/>
     <path d="M -3 3 L 3 3 L 3 -3 L -3 -3 z" transform="translate(337.265516 9.74335)" style="fill: #0000ff; stroke: #0000ff; stroke-width: 1.17; stroke-linejoin: miter"/>
     <path d="M -3 3 L 3 3 L 3 -3 L -3 -3 z" transform="translate(367.027531 9.74335)" style="fill: #0000ff; stroke: #0000ff; stroke-width: 1.17; stroke-linejoin: miter"/>
     <path d="M -3 3 L 3 3 L 3 -3 L -3 -3 z" transform="translate(396.789547 9.74335)" style="fill: #0000ff; stroke: #0000ff; stroke-width: 1.17; stroke-linejoin: miter"/>
    </g>
   </g>
   <g id="line2d_32">
    <path d="M 39.645357 197.871993 L 69.407373 189.729508 L 99.169389 176.025654 L 128.931405 144.999063 L 158.69342 114.371614 L 188.455436 74.803397 L 218.217452 30.099561 L 247.979468 13.01631 L 277.741484 9.74335 L 307.5035 9.74335 L 337.265516 9.74335 L 367.027531 9.74335 L 396.789547 9.74335" clip-path="url(#p7adef62418)" style="fill: none; stroke: #008000; stroke-width: 1.68; stroke-linecap: square"/>
    <g clip-path="url(#p7adef62418)">
     <path d="M -0 4.242641 L 2.545584 0 L 0 -4.242641 L -2.545584 -0 z" transform="translate(39.645357 197.871993)" style="fill: #008000; stroke: #008000; stroke-width: 1.17; stroke-linejoin: miter"/>
     <path d="M -0 4.242641 L 2.545584 0 L 0 -4.242641 L -2.545584 -0 z" transform="translate(69.407373 189.729508)" style="fill: #008000; stroke: #008000; stroke-width: 1.17; stroke-linejoin: miter"/>
     <path d="M -0 4.242641 L 2.545584 0 L 0 -4.242641 L -2.545584 -0 z" transform="translate(99.169389 176.025654)" style="fill: #008000; stroke: #008000; stroke-width: 1.17; stroke-linejoin: miter"/>
     <path d="M -0 4.242641 L 2.545584 0 L 0 -4.242641 L -2.545584 -0 z" transform="translate(128.931405 144.999063)" style="fill: #008000; stroke: #008000; stroke-width: 1.17; stroke-linejoin: miter"/>
     <path d="M -0 4.242641 L 2.545584 0 L 0 -4.242641 L -2.545584 -0 z" transform="translate(158.69342 114.371614)" style="fill: #008000; stroke: #008000; stroke-width: 1.17; stroke-linejoin: miter"/>
     <path d="M -0 4.242641 L 2.545584 0 L 0 -4.242641 L -2.545584 -0 z" transform="translate(188.455436 74.803397)" style="fill: #008000; stroke: #008000; stroke-width: 1.17; stroke-linejoin: miter"/>
     <path d="M -0 4.242641 L 2.545584 0 L 0 -4.242641 L -2.545584 -0 z" transform="translate(218.217452 30.099561)" style="fill: #008000; stroke: #008000; stroke-width: 1.17; stroke-linejoin: miter"/>
     <path d="M -0 4.242641 L 2.545584 0 L 0 -4.242641 L -2.545584 -0 z" transform="translate(247.979468 13.01631)" style="fill: #008000; stroke: #008000; stroke-width: 1.17; stroke-linejoin: miter"/>
     <path d="M -0 4.242641 L 2.545584 0 L 0 -4.242641 L -2.545584 -0 z" transform="translate(277.741484 9.74335)" style="fill: #008000; stroke: #008000; stroke-width: 1.17; stroke-linejoin: miter"/>
     <path d="M -0 4.242641 L 2.545584 0 L 0 -4.242641 L -2.545584 -0 z" transform="translate(307.5035 9.74335)" style="fill: #008000; stroke: #008000; stroke-width: 1.17; stroke-linejoin: miter"/>
     <path d="M -0 4.242641 L 2.545584 0 L 0 -4.242641 L -2.545584 -0 z" transform="translate(337.265516 9.74335)" style="fill: #008000; stroke: #008000; stroke-width: 1.17; stroke-linejoin: miter"/>
     <path d="M -0 4.242641 L 2.545584 0 L 0 -4.242641 L -2.545584 -0 z" transform="translate(367.027531 9.74335)" style="fill: #008000; stroke: #008000; stroke-width: 1.17; stroke-linejoin: miter"/>
     <path d="M -0 4.242641 L 2.545584 0 L 0 -4.242641 L -2.545584 -0 z" transform="translate(396.789547 9.74335)" style="fill: #008000; stroke: #008000; stroke-width: 1.17; stroke-linejoin: miter"/>
    </g>
   </g>
   <g id="patch_3">
    <path d="M 39.645357 275.837611 L 39.645357 9.74335" style="fill: none; stroke: #000000; stroke-width: 1.008; stroke-linejoin: miter; stroke-linecap: square"/>
   </g>
   <g id="patch_4">
    <path d="M 396.789547 275.837611 L 396.789547 9.74335" style="fill: none; stroke: #000000; stroke-width: 1.008; stroke-linejoin: miter; stroke-linecap: square"/>
   </g>
   <g id="patch_5">
    <path d="M 39.645357 275.837611 L 396.789547 275.837611" style="fill: none; stroke: #000000; stroke-width: 1.008; stroke-linejoin: miter; stroke-linecap: square"/>
   </g>
   <g id="patch_6">
    <path d="M 39.645357 9.74335 L 396.789547 9.74335" style="fill: none; stroke: #000000; stroke-width: 1.008; stroke-linejoin: miter; stroke-linecap: square"/>
   </g>
   <g id="legend_1">
    <g id="patch_7">
     <path d="M 217.369235 270.837611 L 389.789547 270.837611 Q 391.789547 270.837611 391.789547 268.837611 L 391.789547 123.056361 Q 391.789547 121.056361 389.789547 121.056361 L 217.369235 121.056361 Q 215.369235 121.056361 215.369235 123.056361 L 215.369235 268.837611 Q 215.369235 270.837611 217.369235 270.837611 z" style="fill: #ffffff; stroke: #cccccc; stroke-width: 1.12; stroke-linejoin: miter"/>
    </g>
    <g id="line2d_33">
     <path d="M 219.369235 129.154798 L 229.369235 129.154798 L 239.369235 129.154798" style="fill: none; stroke-dasharray: 5.68,2.27; stroke-dashoffset: 0; stroke: #ff0000; stroke-width: 1.68"/>
     <g>
      <path d="M 0 -3 L -0.673542 -0.927051 L -2.85317 -0.927051 L -1.089814 0.354102 L -1.763356 2.427051 L -0 1.145898 L 1.763356 2.427051 L 1.089814 0.354102 L 2.85317 -0.927051 L 0.673542 -0.927051 z" transform="translate(229.369235 129.154798)" style="fill: #ff0000; stroke: #ff0000; stroke-width: 1.17; stroke-linejoin: bevel"/>
     </g>
    </g>
    <g id="text_14">
     <text filter="url(#tcrisp)" style="font-size: 10px; font-family: 'DejaVu Sans', sans-serif; text-anchor: start; stroke: #000000; stroke-width: 0.25; stroke-linejoin: miter; letter-spacing: 0.025px" x="247.369235" y="132.654798" transform="rotate(-0 247.369235 132.654798)">Defend by DAED per=0</text>
    </g>
    <g id="line2d_34">
     <path d="M 219.369235 143.832923 L 229.369235 143.832923 L 239.369235 143.832923" style="fill: none; stroke-dasharray: 5.68,2.27; stroke-dashoffset: 0; stroke: #bf00bf; stroke-width: 1.68"/>
     <g>
      <path d="M 0 3 C 0.795609 3 1.55874 2.683901 2.12132 2.12132 C 2.683901 1.55874 3 0.795609 3 0 C 3 -0.795609 2.683901 -1.55874 2.12132 -2.12132 C 1.55874 -2.683901 0.795609 -3 0 -3 C -0.795609 -3 -1.55874 -2.683901 -2.12132 -2.12132 C -2.683901 -1.55874 -3 -0.795609 -3 0 C -3 0.795609 -2.683901 1.55874 -2.12132 2.12132 C -1.55874 2.683901 -0.795609 3 0 3 z" transform="translate(229.369235 143.832923)" style="fill: #bf00bf; stroke: #bf00bf; stroke-width: 1.17"/>
     </g>
    </g>
    <g id="text_15">
     <text filter="url(#tcrisp)" style="font-size: 10px; font-family: 'DejaVu Sans', sans-serif; text-anchor: start; stroke: #000000; stroke-width: 0.25; stroke-linejoin: miter; letter-spacing: 0.025px" x="247.369235" y="147.332923" transform="rotate(-0 247.369235 147.332923)">Defend by DAED per=0.06</text>
    </g>
    <g id="line2d_35">
     <path d="M 219.369235 158.511048 L 229.369235 158.511048 L 239.369235 158.511048" style="fill: none; stroke-dasharray: 5.68,2.27; stroke-dashoffset: 0; stroke: #00bfbf; stroke-width: 1.68"/>
     <g>
      <path d="M 3 0 L -3 -3 L -3 3 z" transform="translate(229.369235 158.511048)" style="fill: #00bfbf; stroke: #00bfbf; stroke-width: 1.17; stroke-linejoin: miter"/>
     </g>
    </g>
    <g id="text_16">
     <text filter="url(#tcrisp)" style="font-size: 10px; font-family: 'DejaVu Sans', sans-serif; text-anchor: start; stroke: #000000; stroke-width: 0.25; stroke-linejoin: miter; letter-spacing: 0.025px" x="247.369235" y="162.011048" transform="rotate(-0 247.369235 162.011048)">Defend by DAED per=0.1</text>
    </g>
    <g id="line2d_36">
     <path d="M 219.369235 173.189173 L 229.369235 173.189173 L 239.369235 173.189173" style="fill: none; stroke-dasharray: 5.68,2.27; stroke-dashoffset: 0; stroke: #0000ff; stroke-width: 1.68"/>
     <g>
      <path d="M -3 3 L 3 3 L 3 -3 L -3 -3 z" transform="translate(229.369235 173.189173)" style="fill: #0000ff; stroke: #0000ff; stroke-width: 1.17; stroke-linejoin: miter"/>
     </g>
    </g>
    <g id="text_17">
     <text filter="url(#tcrisp)" style="font-size: 10px; font-family: 'DejaVu Sans', sans-serif; text-anchor: start; stroke: #000000; stroke-width: 0.25; stroke-linejoin: miter; letter-spacing: 0.025px" x="247.369235" y="176.689173" transform="rotate(-0 247.369235 176.689173)">Defend by DAED per=0.12</text>
    </g>
    <g id="line2d_37">
     <path d="M 219.369235 187.867298 L 229.369235 187.867298 L 239.369235 187.867298" style="fill: none; stroke-dasharray: 5.68,2.27; stroke-dashoffset: 0; stroke: #008000; stroke-width: 1.68"/>
     <g>
      <path d="M -0 4.242641 L 2.545584 0 L 0 -4.242641 L -2.545584 -0 z" transform="translate(229.369235 187.867298)" style="fill: #008000; stroke: #008000; stroke-width: 1.17; stroke-linejoin: miter"/>
     </g>
    </g>
    <g id="text_18">
     <text filter="url(#tcrisp)" style="font-size: 10px; font-family: 'DejaVu Sans', sans-serif; text-anchor: start; stroke: #000000; stroke-width: 0.25; stroke-linejoin: miter; letter-spacing: 0.025px" x="247.369235" y="191.367298" transform="rotate(-0 247.369235 191.367298)">Defend by DAED per=0.14</text>
    </g>
    <g id="line2d_38">
     <path d="M 219.369235 202.545423 L 229.369235 202.545423 L 239.369235 202.545423" style="fill: none; stroke: #ff0000; stroke-width: 1.68; stroke-linecap: square"/>
     <g>
      <path d="M 0 -3 L -0.673542 -0.927051 L -2.85317 -0.927051 L -1.089814 0.354102 L -1.763356 2.427051 L -0 1.145898 L 1.763356 2.427051 L 1.089814 0.354102 L 2.85317 -0.927051 L 0.673542 -0.927051 z" transform="translate(229.369235 202.545423)" style="fill: #ff0000; stroke: #ff0000; stroke-width: 1.17; stroke-linejoin: bevel"/>
     </g>
    </g>
    <g id="text_19">
     <text filter="url(#tcrisp)" style="font-size: 10px; font-family: 'DejaVu Sans', sans-serif; text-anchor: start; stroke: #000000; stroke-width: 0.25; stroke-linejoin: miter; letter-spacing: 0.025px" x="247.369235" y="206.045423" transform="rotate(-0 247.369235 206.045423)">Defend by USDAA per=0</text>
    </g>
    <g id="line2d_39">
     <path d="M 219.369235 217.223548 L 229.369235 217.223548 L 239.369235 217.223548" style="fill: none; stroke: #bf00bf; stroke-width: 1.68; stroke-linecap: square"/>
     <g>
      <path d="M 0 3 C 0.795609 3 1.55874 2.683901 2.12132 2.12132 C 2.683901 1.55874 3 0.795609 3 0 C 3 -0.795609 2.683901 -1.55874 2.12132 -2.12132 C 1.55874 -2.683901 0.795609 -3 0 -3 C -0.795609 -3 -1.55874 -2.683901 -2.12132 -2.12132 C -2.683901 -1.55874 -3 -0.795609 -3 0 C -3 0.795609 -2.683901 1.55874 -2.12132 2.12132 C -1.55874 2.683901 -0.795609 3 0 3 z" transform="translate(229.369235 217.223548)" style="fill: #bf00bf; stroke: #bf00bf; stroke-width: 1.17"/>
     </g>
    </g>
    <g id="text_20">
     <text filter="url(#tcrisp)" style="font-size: 10px; font-family: 'DejaVu Sans', sans-serif; text-anchor: start; stroke: #000000; stroke-width: 0.25; stroke-linejoin: miter; letter-spacing: 0.025px" x="247.369235" y="220.723548" transform="rotate(-0 247.369235 220.723548)">Defend by USDAA per=0.06</text>
    </g>
    <g id="line2d_40">
     <path d="M 219.369235 231.901673 L 229.369235 231.901673 L 239.369235 231.901673" style="fill: none; stroke: #00bfbf; stroke-width: 1.68; stroke-linecap: square"/>
     <g>
      <path d="M 3 0 L -3 -3 L -3 3 z" transform="translate(229.369235 231.901673)" style="fill: #00bfbf; stroke: #00bfbf; stroke-width: 1.17; stroke-linejoin: miter"/>
     </g>
    </g>
    <g id="text_21">
     <text filter="url(#tcrisp)" style="font-size: 10px; font-family: 'DejaVu Sans', sans-serif; text-anchor: start; stroke: #000000; stroke-width: 0.25; stroke-linejoin: miter; letter-spacing: 0.025px" x="247.369235" y="235.401673" transform="rotate(-0 247.369235 235.401673)">Defend by USDAA per=0.1</text>
    </g>
    <g id="line2d_41">
     <path d="M 219.369235 246.579798 L 229.369235 246.579798 L 239.369235 246.579798" style="fill: none; stroke: #0000ff; stroke-width: 1.68; stroke-linecap: square"/>
     <g>
      <path d="M -3 3 L 3 3 L 3 -3 L -3 -3 z" transform="translate(229.369235 246.579798)" style="fill: #0000ff; stroke: #0000ff; stroke-width: 1.17; stroke-linejoin: miter"/>
     </g>
    </g>
    <g id="text_22">
     <text filter="url(#tcrisp)" style="font-size: 10px; font-family: 'DejaVu Sans', sans-serif; text-anchor: start; stroke: #000000; stroke-width: 0.25; stroke-linejoin: miter; letter-spacing: 0.025px" x="247.369235" y="250.079798" transform="rotate(-0 247.369235 250.079798)">Defend by USDAA per=0.12</text>
    </g>
    <g id="line2d_42">
     <path d="M 219.369235 261.257923 L 229.369235 261.257923 L 239.369235 261.257923" style="fill: none; stroke: #008000; stroke-width: 1.68; stroke-linecap: square"/>
     <g>
      <path d="M -0 4.242641 L 2.545584 0 L 0 -4.242641 L -2.545584 -0 z" transform="translate(229.369235 261.257923)" style="fill: #008000; stroke: #008000; stroke-width: 1.17; stroke-linejoin: miter"/>
     </g>
    </g>
    <g id="text_23">
     <text filter="url(#tcrisp)" style="font-size: 10px; font-family: 'DejaVu Sans', sans-serif; text-anchor: start; stroke: #000000; stroke-width: 0.25; stroke-linejoin: miter; letter-spacing: 0.025px" x="247.369235" y="264.757923" transform="rotate(-0 247.369235 264.757923)">Defend by USDAA per=0.14</text>
    </g>
   </g>
  </g>
 </g>
 <defs>
  <clipPath id="p7adef62418">
   <rect x="39.645357" y="9.74335" width="357.14419" height="266.09426"/>
  </clipPath>
 </defs>
</svg>

</body></html>
